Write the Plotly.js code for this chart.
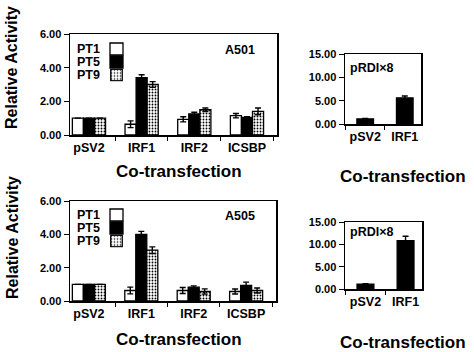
<!DOCTYPE html>
<html>
<head>
<meta charset="utf-8">
<script src="https://cdn.plot.ly/plotly-3.0.1.min.js"></script>
<style>html,body{margin:0;padding:0;background:#fff;}#chart{width:474px;height:352px;}</style>
</head>
<body>
<div id="chart"></div>
<script>
// ---- data ----
const categories = ["pSV2", "IRF1", "IRF2", "ICSBP"];
const seriesNames = ["PT1", "PT5", "PT9"];

// A501 (top left)
const a501_PT1 = [1.0, 0.64, 0.93, 1.15];
const a501_PT5 = [1.0, 3.40, 1.25, 1.05];
const a501_PT9 = [1.0, 3.00, 1.50, 1.40];
const a501_PT1_err = [0.0, 0.20, 0.15, 0.13];
const a501_PT5_err = [0.0, 0.18, 0.10, 0.03];
const a501_PT9_err = [0.0, 0.17, 0.10, 0.20];

// A505 (bottom left)
const a505_PT1 = [1.0, 0.63, 0.63, 0.57];
const a505_PT5 = [1.0, 4.00, 0.83, 0.93];
const a505_PT9 = [1.0, 3.05, 0.57, 0.63];
const a505_PT1_err = [0.0, 0.20, 0.18, 0.15];
const a505_PT5_err = [0.0, 0.18, 0.08, 0.20];
const a505_PT9_err = [0.0, 0.20, 0.16, 0.15];

// pRDIx8 (right panels)
const rCategories = ["pSV2", "IRF1"];
const rTop = [1.1, 5.6];
const rTop_err = [0.1, 0.4];
const rBot = [1.1, 10.8];
const rBot_err = [0.1, 1.0];

const leftTickVals = [0, 2, 4, 6];
const leftTickText = ["0.00", "2.00", "4.00", "6.00"];
const rightTickVals = [0, 5, 10, 15];
const rightTickText = ["0.00", "5.00", "10.00", "15.00"];

// ---- styling ----
const W = 474, H = 352;
const px = v => v / W;
const py = v => 1 - v / H;
const FONT = "Liberation Sans";
const black = "#000";

function barStyle(kind) {
  if (kind === 0) return {color: "#fff", line: {color: black, width: 1.3}};
  if (kind === 1) return {color: black, line: {color: black, width: 1.3}};
  return {color: "#fff", line: {color: black, width: 1.3},
          pattern: {shape: ".", fgcolor: black, bgcolor: "#fff", size: 3, solidity: 0.3}};
}
function errStyle(arr) {
  return {type: "data", array: arr, visible: true, color: black, thickness: 1.4, width: 3, symmetric: true};
}

const traces = [];
const topVals = [a501_PT1, a501_PT5, a501_PT9];
const topErr = [a501_PT1_err, a501_PT5_err, a501_PT9_err];
const botVals = [a505_PT1, a505_PT5, a505_PT9];
const botErr = [a505_PT1_err, a505_PT5_err, a505_PT9_err];
for (let i = 0; i < 3; i++) {
  traces.push({type: "bar", x: categories, y: topVals[i], name: seriesNames[i], xaxis: "x", yaxis: "y",
    marker: barStyle(i), error_y: errStyle(topErr[i]), showlegend: false, hoverinfo: "none"});
}
for (let i = 0; i < 3; i++) {
  traces.push({type: "bar", x: categories, y: botVals[i], name: seriesNames[i], xaxis: "x2", yaxis: "y2",
    marker: barStyle(i), error_y: errStyle(botErr[i]), showlegend: false, hoverinfo: "none"});
}
traces.push({type: "bar", x: rCategories, y: rTop, xaxis: "x3", yaxis: "y3", width: 0.42,
  marker: barStyle(1), error_y: errStyle(rTop_err), showlegend: false, hoverinfo: "none"});
traces.push({type: "bar", x: rCategories, y: rBot, xaxis: "x4", yaxis: "y4", width: 0.42,
  marker: barStyle(1), error_y: errStyle(rBot_err), showlegend: false, hoverinfo: "none"});

const tickFont = {family: FONT, size: 11, color: black, weight: "bold"};
const catFont = {family: FONT, size: 12.5, color: black, weight: "bold"};

function xAxis(x0, x1, range, anchor) {
  return {domain: [px(x0), px(x1)], anchor: anchor, type: "category", range: range,
    showline: true, linecolor: black, linewidth: 1.5, mirror: true,
    ticks: "outside", ticklen: 4, tickwidth: 1, tickcolor: black, tickson: "boundaries",
    tickangle: 0, automargin: false,
    showgrid: false, zeroline: false, tickfont: catFont, fixedrange: true};
}
function yAxis(y0, y1, range, tv, tt, anchor) {
  return {domain: [py(y1), py(y0)], anchor: anchor, range: range,
    tickvals: tv, ticktext: tt, automargin: false,
    showline: true, linecolor: black, linewidth: 1.5, mirror: true,
    ticks: "outside", ticklen: 5, tickwidth: 1, tickcolor: black,
    showgrid: false, zeroline: false, tickfont: tickFont, fixedrange: true};
}

const yTitleFont = {family: FONT, size: 16, color: black, weight: "bold"};
const xTitleFont = {family: FONT, size: 17, color: black, weight: "bold"};
const lblFont = {family: FONT, size: 12.5, color: black, weight: "bold"};

const annotations = [
  {text: "Relative Activity", xref: "paper", yref: "paper", x: px(12), y: py(68), textangle: -90, showarrow: false, font: yTitleFont, xanchor: "center", yanchor: "middle"},
  {text: "Relative Activity", xref: "paper", yref: "paper", x: px(12), y: py(238), textangle: -90, showarrow: false, font: yTitleFont, xanchor: "center", yanchor: "middle"},
  {text: "Co-transfection", xref: "paper", yref: "paper", x: px(179), y: py(171), showarrow: false, font: xTitleFont, xanchor: "center", yanchor: "middle"},
  {text: "Co-transfection", xref: "paper", yref: "paper", x: px(179), y: py(339), showarrow: false, font: xTitleFont, xanchor: "center", yanchor: "middle"},
  {text: "Co-transfection", xref: "paper", yref: "paper", x: px(403), y: py(176), showarrow: false, font: xTitleFont, xanchor: "center", yanchor: "middle"},
  {text: "Co-transfection", xref: "paper", yref: "paper", x: px(403), y: py(342), showarrow: false, font: xTitleFont, xanchor: "center", yanchor: "middle"},
  {text: "A501", xref: "paper", yref: "paper", x: px(223), y: py(50), showarrow: false, font: lblFont, xanchor: "left", yanchor: "middle"},
  {text: "A505", xref: "paper", yref: "paper", x: px(223), y: py(216), showarrow: false, font: lblFont, xanchor: "left", yanchor: "middle"},
  {text: "pRDI×8", xref: "paper", yref: "paper", x: px(348), y: py(68), showarrow: false, font: lblFont, xanchor: "left", yanchor: "middle"},
  {text: "pRDI×8", xref: "paper", yref: "paper", x: px(348), y: py(232), showarrow: false, font: lblFont, xanchor: "left", yanchor: "middle"}
];
const shapes = [];
const images = [];
const patSvg = "<svg xmlns='http://www.w3.org/2000/svg' width='13' height='13'><defs><pattern id='p' width='3' height='3' patternUnits='userSpaceOnUse'><rect width='3' height='3' fill='white'/><circle cx='1.5' cy='1.5' r='0.8' fill='black'/></pattern></defs><rect x='0.75' y='0.75' width='11.5' height='11.5' fill='url(#p)' stroke='black' stroke-width='1.3'/></svg>";
const patUri = "data:image/svg+xml;charset=utf-8," + encodeURIComponent(patSvg);

[[49, 62, 75], [215, 228, 241]].forEach(rows => {
  rows.forEach((yy, i) => {
    annotations.push({text: seriesNames[i], xref: "paper", yref: "paper", x: px(75), y: py(yy), showarrow: false, font: lblFont, xanchor: "left", yanchor: "middle"});
    if (i < 2) {
      shapes.push({type: "rect", xref: "paper", yref: "paper", x0: px(110), x1: px(123), y0: py(yy + 6), y1: py(yy - 6),
        fillcolor: i === 0 ? "#fff" : black, line: {color: black, width: 1.3}});
    } else {
      images.push({source: patUri, xref: "paper", yref: "paper", x: px(110), y: py(yy - 6.5), sizex: 13 / W, sizey: 13 / H,
        sizing: "stretch", xanchor: "left", yanchor: "top", layer: "above"});
    }
  });
});

const layout = {
  width: W, height: H, margin: {l: 0, r: 0, t: 0, b: 0},
  paper_bgcolor: "#fff", plot_bgcolor: "#fff",
  barmode: "group", bargap: 0.37, bargroupgap: 0,
  showlegend: false,
  xaxis: xAxis(70, 277, [-0.36, 3.57], "y"),
  yaxis: yAxis(34, 135, [0, 6], leftTickVals, leftTickText, "x"),
  xaxis2: xAxis(70, 276, [-0.36, 3.57], "y2"),
  yaxis2: yAxis(201, 301, [0, 6], leftTickVals, leftTickText, "x2"),
  xaxis3: xAxis(345, 421, [-0.51, 1.41], "y3"),
  yaxis3: yAxis(54, 124, [0, 15], rightTickVals, rightTickText, "x3"),
  xaxis4: xAxis(345, 422, [-0.51, 1.41], "y4"),
  yaxis4: yAxis(222, 289, [0, 15], rightTickVals, rightTickText, "x4"),
  annotations: annotations, shapes: shapes, images: images,
  font: {family: FONT, color: black}
};

Plotly.newPlot("chart", traces, layout, {displayModeBar: false, staticPlot: true});
</script>
</body>
</html>
